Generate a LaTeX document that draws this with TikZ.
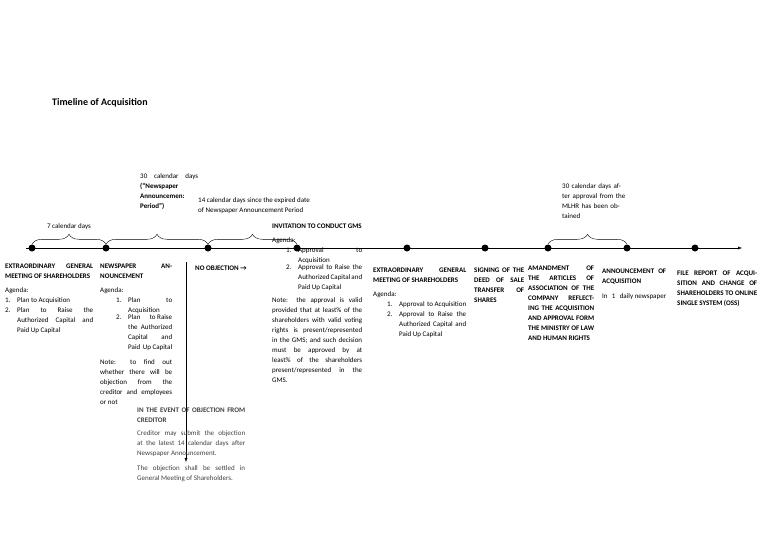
\documentclass[tikz,border=0pt]{standalone}
\usepackage{fontspec}
\setmainfont{Carlito}
\usetikzlibrary{decorations.pathreplacing,arrows.meta}
\newcommand{\fs}{\fontsize{7}{10}\selectfont\lefthyphenmin=64\righthyphenmin=64 }
\newcommand{\itmx}[3]{\par\noindent\hspace*{#1}\makebox[12pt][l]{#2}\parbox[t]{\dimexpr\linewidth-#1-12pt\relax}{\fs #3}\par}
\newcommand{\gap}[1]{\par\vspace{#1}\noindent}
\begin{document}
\begin{tikzpicture}[x=1pt,y=-1pt,
  dot/.style={circle,fill=black,inner sep=0pt,minimum size=7pt},
  blk/.style={anchor=north west,align=justify,inner sep=0pt,font=\fs},
  bblk/.style={blk,font=\fs\bfseries},
  brc/.style={decorate,decoration={brace,amplitude=10pt},thin},
  lbl/.style={anchor=north west,align=left,inner sep=0pt,font=\fs}]
\useasboundingbox (0,0) rectangle (768,543);
\node[anchor=west,inner sep=0pt,font=\bfseries\fontsize{10}{12}\selectfont] (title) at (52,103) {Timeline of Acquisition};
\coordinate (s) at (26,248); \coordinate (e) at (742,248);
\draw[-{Latex[length=4pt]}] (s) -- (e);
\foreach \n/\x in {d1/32,d2/106,d3/208,d4/297,d5/407,d6/485,d7/548,d8/627,d9/695}
  \node[dot] (\n) at (\x,248) {};
\draw[brc] (d1.north) -- node[above=11pt,font=\fs] (l1) {7 calendar days} (d2.north);
\draw[brc] (d2.north) -- (d3.north);
\draw[brc] (d3.north) -- (d4.north);
\draw[brc] (d7.north) -- (d8.north);
\node[lbl,text width=58pt,align=justify] (l2) at (140,173) {30 \hfill calendar \hfill days\gap{0pt}\textbf{(``Newspaper Announcemen: Period'')}};
\node[lbl] (l3) at (198,197) {14 calendar days since the expired date\\of Newspaper Announcement Period};
\node[lbl,text width=66pt] (l4) at (562,183) {30 calendar days after approval from the MLHR has been obtained};
\coordinate (v1) at (186,262); \coordinate (v2) at (186,462);
\draw[-{Latex[length=4pt]}] (v1) -- (v2);
\node[blk,text width=88pt] (b1) at (5,264) {\textbf{EXTRAORDINARY GENERAL MEETING OF SHAREHOLDERS}\gap{4pt}Agenda:
\itmx{0pt}{1.}{Plan to Acquisition}\itmx{0pt}{2.}{Plan to Raise the Authorized Capital and Paid Up Capital}};
\node[blk,text width=72pt] (b2) at (100,264) {\textbf{NEWSPAPER ANNOUNCEMENT}\gap{4pt}Agenda:
\itmx{16pt}{1.}{Plan \hfill to Acquisition}\itmx{16pt}{2.}{Plan \hfill to Raise \hfill the Authorized Capital and Paid \hfill Up Capital}\gap{8pt}Note: to find out whether there will be objection from the creditor and employees or not};
\node[bblk] (b3) at (195,266) {NO OBJECTION \textrightarrow};
\node[blk,text width=108pt,text=black!75] (b3b) at (137,408) {\textbf{IN THE EVENT OF OBJECTION FROM CREDITOR}\gap{3pt}Creditor may submit the objection at the latest 14 calendar days after Newspaper Announcement.\gap{5pt}The objection shall be settled in General Meeting of Shareholders.};
\node[blk,text width=90pt] (b4) at (272,224) {\textbf{INVITATION TO CONDUCT GMS}\gap{4pt}Agenda:
\itmx{14pt}{1.}{Approval \hfill to Acquisition}\itmx{14pt}{2.}{Approval to Raise the Authorized Capital and Paid Up Capital}\gap{6pt}Note: the approval is valid provided that at least\% of the shareholders with valid voting rights is present/represented in the GMS; and such decision must be approved by at least\% of the shareholders present/represented in the GMS.};
\node[blk,text width=93pt] (b5) at (373,268) {\textbf{EXTRAORDINARY GENERAL MEETING OF SHAREHOLDERS}\gap{4pt}Agenda:
\itmx{14pt}{1.}{Approval \hfill to Acquisition}\itmx{14pt}{2.}{Approval to Raise the Authorized Capital and Paid Up Capital}};
\node[bblk,text width=50pt] (b6) at (474,268) {SIGNING OF THE DEED OF SALE TRANSFER OF SHARES};
\node[bblk,text width=66pt] (b7) at (528,266) {AMANDMENT OF THE ARTICLES OF ASSOCIATION OF THE COMPANY REFLECTING THE ACQUISITION AND APPROVAL FORM THE MINISTRY OF LAW AND HUMAN RIGHTS};
\node[blk,text width=64pt] (b8) at (602,269) {\textbf{ANNOUNCEMENT OF ACQUISITION}\gap{5pt}In \hfill 1 \hfill daily newspaper};
\node[bblk,text width=80pt] (b9) at (677,271) {FILE REPORT OF ACQUISITION AND CHANGE OF SHAREHOLDERS TO ONLINE SINGLE SYSTEM (OSS)};
\end{tikzpicture}
\end{document}
